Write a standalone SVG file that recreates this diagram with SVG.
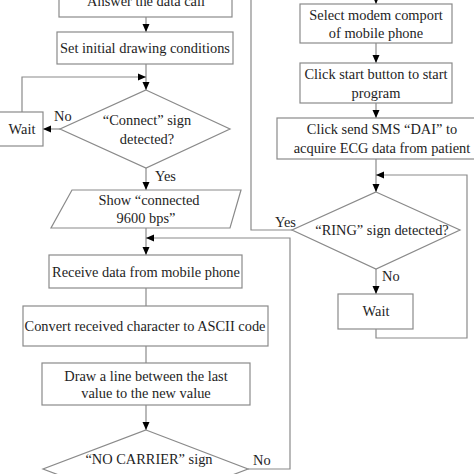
<svg xmlns="http://www.w3.org/2000/svg" width="474" height="474" viewBox="0 0 474 474">
<defs>
<style>
.b{fill:#fff;stroke:#8a8a8a;stroke-width:1.2}
.c{fill:none;stroke:#8a8a8a;stroke-width:1.2}
text{font-family:"Liberation Serif","Times New Roman",serif;font-size:14.4px;fill:#1e1e1e}
.m{text-anchor:middle}
</style>
<marker id="a" markerUnits="userSpaceOnUse" markerWidth="8" markerHeight="8" viewBox="0 0 8 8" refX="8" refY="4" orient="auto">
<path d="M0,0.5 L8,4 L0,7.5 Z" fill="#000"/>
</marker>
</defs>
<rect width="474" height="474" fill="#fff"/>
<g id="connectors">
<path class="c" d="M146,17 V32" marker-end="url(#a)"/>
<path class="c" d="M146,64 V90" marker-end="url(#a)"/>
<path class="c" d="M22,112 V77 H146" marker-end="url(#a)"/>
<path class="c" d="M60,129 H43" marker-end="url(#a)"/>
<path class="c" d="M146,168 V190" marker-end="url(#a)"/>
<path class="c" d="M146,228 V255" marker-end="url(#a)"/>
<path class="c" d="M248,469 H290 V238 H146" marker-end="url(#a)"/>
<path class="c" d="M146,288 V306"/>
<path class="c" d="M146,346 V363"/>
<path class="c" d="M146,405 V430" marker-end="url(#a)"/>
<path class="c" d="M292,230 H251 V-5"/>
<path class="c" d="M376,-5 V4" marker-end="url(#a)"/>
<path class="c" d="M376,43 V63" marker-end="url(#a)"/>
<path class="c" d="M376,103 V118" marker-end="url(#a)"/>
<path class="c" d="M376,159 V192" marker-end="url(#a)"/>
<path class="c" d="M376,269 V294" marker-end="url(#a)"/>
<path class="c" d="M376,329 V338 H467 V175 H376" marker-end="url(#a)"/>
</g>
<g id="answer"><rect class="b" x="59" y="-20" width="173" height="37"/><text class="m" x="146" y="6">Answer the data call</text></g>
<g id="setinit"><rect class="b" x="57" y="32" width="176" height="32"/><text class="m" x="145" y="53">Set initial drawing conditions</text></g>
<g id="connect"><polygon class="b" points="146,90 230,129 146,168 60,129"/><text class="m" x="147" y="125">“Connect” sign</text><text class="m" x="147" y="144">detected?</text></g>
<g id="wait1"><rect class="b" x="-2" y="112" width="45" height="34"/><text class="m" x="22" y="134">Wait</text></g>
<text x="54" y="121">No</text>
<text x="155" y="181">Yes</text>
<g id="show"><polygon class="b" points="72,190 241,190 230,228 51,228"/><text class="m" x="149" y="205">Show “connected</text><text class="m" x="146" y="223">9600 bps”</text></g>
<g id="receive"><rect class="b" x="49" y="255" width="193" height="33"/><text class="m" x="146" y="277">Receive data from mobile phone</text></g>
<g id="convert"><rect class="b" x="23" y="306" width="245" height="40"/><text class="m" x="145" y="331">Convert received character to ASCII code</text></g>
<g id="draw"><rect class="b" x="42" y="363" width="208" height="42"/><text class="m" x="146" y="381">Draw a line between the last</text><text class="m" x="146" y="398">value to the new value</text></g>
<g id="nocarrier"><polygon class="b" points="146,430 248,469 146,508 43,469"/><text class="m" x="149" y="464">“NO CARRIER” sign</text></g>
<text x="253" y="465">No</text>
<g id="select"><rect class="b" x="300" y="4" width="152" height="39"/><text class="m" x="376" y="20">Select modem comport</text><text class="m" x="376" y="38">of mobile phone</text></g>
<g id="start"><rect class="b" x="300" y="63" width="152" height="40"/><text class="m" x="376" y="79">Click start button to start</text><text class="m" x="376" y="98">program</text></g>
<g id="sms"><rect class="b" x="277" y="118" width="200" height="41"/><text class="m" x="382" y="134">Click send SMS “DAI” to</text><text class="m" x="382" y="153">acquire ECG data from patient</text></g>
<g id="ring"><polygon class="b" points="376,192 460,230 376,269 292,230"/><text class="m" x="382" y="235">“RING” sign detected?</text></g>
<text x="275" y="227">Yes</text>
<text x="382" y="281">No</text>
<g id="wait2"><rect class="b" x="338" y="294" width="75" height="35"/><text class="m" x="376" y="316">Wait</text></g>
</svg>
